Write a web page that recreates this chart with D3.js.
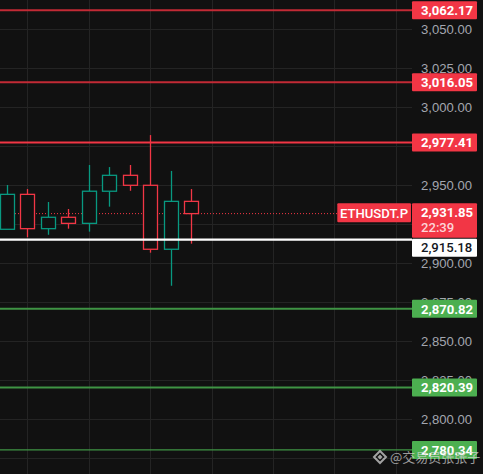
<!DOCTYPE html>
<html><head><meta charset="utf-8">
<script src="https://cdn.jsdelivr.net/npm/d3@7"></script>
<style>html,body{margin:0;padding:0;background:#111111;overflow:hidden}svg{display:block}</style>
</head><body>
<script>
// ---- data ----
const candleIndex = [0,1,2,3,4,5,6,7,8,9];
const opens  = [2921.8, 2944.2, 2922.2, 2929.5, 2925.6, 2946.2, 2956.4, 2950.0, 2909.0, 2939.7];
const highs  = [2950.2, 2947.6, 2939.3, 2934.8, 2963.0, 2961.7, 2963.0, 2982.2, 2959.2, 2947.6];
const lows   = [2921.8, 2916.7, 2918.3, 2922.2, 2920.3, 2936.3, 2946.5, 2906.8, 2885.6, 2912.6];
const closes = [2944.2, 2922.2, 2929.5, 2925.6, 2946.2, 2956.4, 2950.0, 2909.0, 2939.7, 2931.85];
const resistanceLevels = [3062.17, 3016.05, 2977.41];
const supportLevels = [2870.82, 2820.39, 2780.34];
const baseLevel = 2915.18;
const lastPrice = 2931.85;
const countdown = "22:39";
const symbol = "ETHUSDT.P";
const tickValues = [3050, 3025, 3000, 2950, 2900, 2875, 2850, 2825, 2800];
const gridValues = [3075, 3050, 3025, 3000, 2975, 2950, 2925, 2900, 2875, 2850, 2825, 2800, 2775];
const vGridIndex = [1, 4, 7, 10, 13, 16, 19];
const watermark = "@交易员张张子";

// ---- layout ----
const W = 483, H = 474, plotRight = 412, boxRight = 477;
const UP = "#089981", DOWN = "#f23645";
const fmt = d3.format(",.2f");
const FS = 13.1;
const y = d3.scaleLinear().domain([3050, 2800]).range([29.3, 419.3]);
const x = d3.scaleLinear().domain([1, 19]).range([27.3, 395.7]);

const svg = d3.select("body").append("svg").attr("width", W).attr("height", H)
  .style("font-family", "Roboto, 'Noto Sans', sans-serif");
svg.append("rect").attr("width", W).attr("height", H).attr("fill", "#111111");

const plot = svg.append("g");
// grid
plot.selectAll("line.hg").data(gridValues).join("line").attr("class","hg")
  .attr("x1", 0).attr("x2", plotRight).attr("y1", d => Math.round(y(d))+0.5).attr("y2", d => Math.round(y(d))+0.5)
  .attr("stroke", "#242424").attr("stroke-width", 1);
plot.selectAll("line.vg").data(vGridIndex).join("line").attr("class","vg")
  .attr("x1", d => Math.round(x(d))+0.5).attr("x2", d => Math.round(x(d))+0.5).attr("y1", 0).attr("y2", H)
  .attr("stroke", "#242424").attr("stroke-width", 1);

// axis tick labels
const axis = d3.axisRight(y).tickValues(tickValues).tickSize(0).tickPadding(0).tickFormat(fmt);
const ag = svg.append("g").attr("transform", `translate(421,0)`).call(axis);
ag.select(".domain").remove();
ag.selectAll("text").attr("fill", "#a3a6af").attr("font-size", FS).attr("dy", "0.35em");

// current price dotted line
plot.append("line").attr("x1", 0).attr("x2", 337).attr("y1", y(lastPrice)).attr("y2", y(lastPrice))
  .attr("stroke", DOWN).attr("stroke-width", 1).attr("stroke-dasharray", "1,2");

// candles
const half = 7;
const cg = plot.selectAll("g.c").data(candleIndex).join("g").attr("class","c");
cg.append("line")
  .attr("x1", i => Math.round(x(i))+0.5).attr("x2", i => Math.round(x(i))+0.5)
  .attr("y1", i => y(highs[i])).attr("y2", i => y(Math.max(opens[i], closes[i])))
  .attr("stroke", i => closes[i] >= opens[i] ? UP : DOWN).attr("stroke-width", 1.3);
cg.append("line")
  .attr("x1", i => Math.round(x(i))+0.5).attr("x2", i => Math.round(x(i))+0.5)
  .attr("y1", i => y(Math.min(opens[i], closes[i]))).attr("y2", i => y(lows[i]))
  .attr("stroke", i => closes[i] >= opens[i] ? UP : DOWN).attr("stroke-width", 1.3);
cg.append("rect")
  .attr("x", i => Math.round(x(i)) - half + 0.5)
  .attr("width", 2*half)
  .attr("y", i => y(Math.max(opens[i], closes[i])))
  .attr("height", i => Math.max(1, y(Math.min(opens[i], closes[i])) - y(Math.max(opens[i], closes[i]))))
  .attr("fill", "#111111")
  .attr("stroke", i => closes[i] >= opens[i] ? UP : DOWN).attr("stroke-width", 1.3);

// level lines
plot.selectAll("line.res").data(resistanceLevels).join("line").attr("class","res")
  .attr("x1", 0).attr("x2", plotRight).attr("y1", d => y(d)).attr("y2", d => y(d))
  .attr("stroke", (d,i) => i < 2 ? "#c22a35" : "#f23645").attr("stroke-width", 2);
plot.selectAll("line.sup").data(supportLevels).join("line").attr("class","sup")
  .attr("x1", 0).attr("x2", plotRight).attr("y1", d => y(d)).attr("y2", d => y(d))
  .attr("stroke", "#3f9444").attr("stroke-width", (d,i) => i < 2 ? 2 : 1.2);
plot.append("line").attr("x1", 0).attr("x2", plotRight).attr("y1", y(baseLevel)).attr("y2", y(baseLevel))
  .attr("stroke", "#ffffff").attr("stroke-width", 2.2);

// axis labels for levels
function levelBox(v, fill, textColor, weight, minTop) {
  let top = y(v) - 9;
  if (minTop !== undefined) top = Math.max(top, minTop);
  const cy = top + 9;
  svg.append("rect").attr("x", plotRight).attr("y", top).attr("width", boxRight - plotRight).attr("height", 18)
    .attr("fill", fill).attr("rx", 1);
  svg.append("text").attr("x", 421).attr("y", cy).attr("dy", "0.36em")
    .attr("fill", textColor).attr("font-size", FS).attr("font-weight", weight).text(fmt(v));
}
resistanceLevels.forEach(v => levelBox(v, "#f23645", "#ffffff", 700));
supportLevels.forEach(v => levelBox(v, "#4caf50", "#ffffff", 700));

// last price box (two lines)
const lp = y(lastPrice);
const lpTop = lp - 10.3, lpH = 34.4;
svg.append("rect").attr("x", plotRight).attr("y", lpTop).attr("width", boxRight - plotRight).attr("height", lpH)
  .attr("fill", "#f23645").attr("rx", 1);
svg.append("text").attr("x", 421).attr("y", lp - 1.5).attr("dy", "0.36em")
  .attr("fill", "#ffffff").attr("font-size", FS).attr("font-weight", 700).text(fmt(lastPrice));
svg.append("text").attr("x", 421).attr("y", lp + 13.2).attr("dy", "0.36em")
  .attr("fill", "#fdd5d8").attr("font-size", FS).attr("font-weight", 500).text(countdown);
levelBox(baseLevel, "#ffffff", "#131722", 500, lpTop + lpH + 1);

// symbol label
svg.append("rect").attr("x", 337.3).attr("y", lpTop).attr("width", 73.7).attr("height", 19)
  .attr("fill", "#f23645").attr("rx", 1);
svg.append("text").attr("x", 374).attr("y", lp - 0.8).attr("dy", "0.36em").attr("text-anchor", "middle")
  .attr("fill", "#ffffff").attr("font-size", FS).attr("font-weight", 500).text(symbol);

// watermark
const wm = svg.append("g").attr("opacity", 0.7);
const wx = 380, wy = 457;
wm.append("path").attr("d", `M${wx},${wy-6} L${wx+6},${wy} L${wx},${wy+6} L${wx-6},${wy} Z`)
  .attr("fill", "none").attr("stroke", "#e0e0e0").attr("stroke-width", 2);
wm.append("rect").attr("x", wx-1.8).attr("y", wy-1.8).attr("width", 3.6).attr("height", 3.6)
  .attr("transform", `rotate(45 ${wx} ${wy})`).attr("fill", "#e0e0e0");
wm.append("text").attr("x", 390).attr("y", wy).attr("dy", "0.36em").attr("fill", "#d8d8d8")
  .attr("font-size", 13).attr("font-family", "'Noto Sans CJK SC', sans-serif").text(watermark);
</script>
</body></html>
